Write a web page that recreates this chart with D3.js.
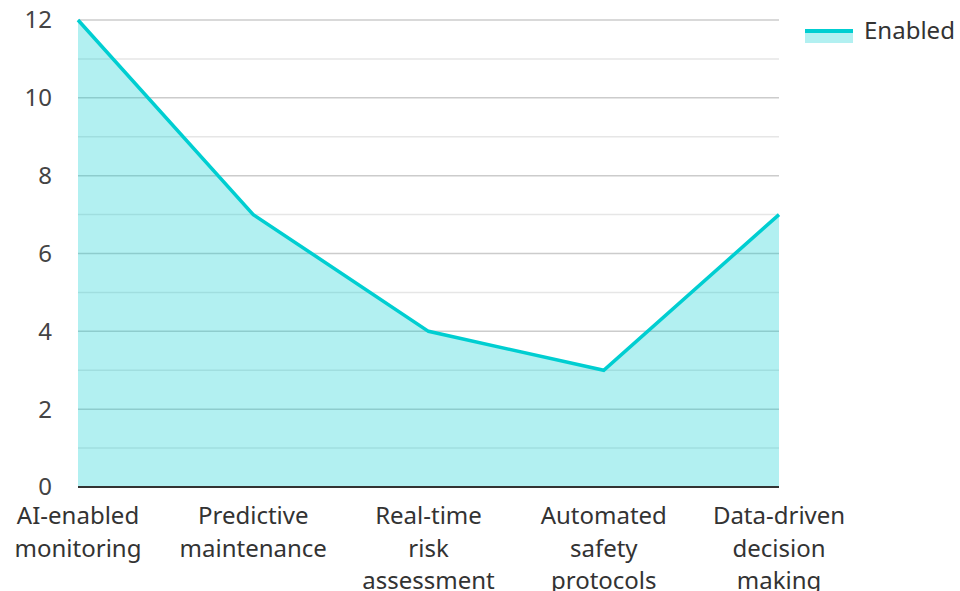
<!DOCTYPE html>
<html>
<head>
<meta charset="utf-8">
<script src="https://cdn.jsdelivr.net/npm/d3@7"></script>
<style>
  body { margin: 0; background: #fff; }
  text { font-family: "Noto Sans", sans-serif; }
</style>
</head>
<body>
<svg id="chart"></svg>
<script>
// Data
const categories = [
  ["AI-enabled", "monitoring"],
  ["Predictive", "maintenance"],
  ["Real-time", "risk", "assessment"],
  ["Automated", "safety", "protocols"],
  ["Data-driven", "decision", "making"]
];
const values = [12, 7, 4, 3, 7];
const seriesName = "Enabled";
const yTicks = [0, 2, 4, 6, 8, 10, 12];

const width = 960, height = 591;
const margin = { top: 20, right: 181, bottom: 104, left: 78 };
const innerW = width - margin.left - margin.right;
const innerH = height - margin.top - margin.bottom;
const lineColor = "#00CED1";

const svg = d3.select("#chart").attr("width", width).attr("height", height);
const g = svg.append("g").attr("transform", `translate(${margin.left},${margin.top})`);

const x = d3.scalePoint().domain(d3.range(categories.length)).range([0, innerW]);
const y = d3.scaleLinear().domain([0, 12]).range([innerH, 0]);

// Grid lines (minor every 1, major every 2)
g.append("g")
  .selectAll("line")
  .data(d3.range(1, 13))
  .join("line")
  .attr("x1", 0)
  .attr("x2", innerW)
  .attr("y1", (d) => y(d))
  .attr("y2", (d) => y(d))
  .attr("stroke", (d) => (d % 2 === 0 ? "#cccccc" : "#e6e6e6"))
  .attr("stroke-width", 1.5);

// Area + line
const area = d3.area().x((d, i) => x(i)).y0(y(0)).y1((d) => y(d));
const line = d3.line().x((d, i) => x(i)).y((d) => y(d));

g.append("path")
  .datum(values)
  .attr("d", area)
  .attr("fill", lineColor)
  .attr("fill-opacity", 0.3);

g.append("path")
  .datum(values)
  .attr("d", line)
  .attr("fill", "none")
  .attr("stroke", lineColor)
  .attr("stroke-width", 3.5);

// Bottom axis line
g.append("line")
  .attr("x1", 0)
  .attr("x2", innerW)
  .attr("y1", innerH)
  .attr("y2", innerH)
  .attr("stroke", "#333")
  .attr("stroke-width", 2);

// Y tick labels
g.append("g")
  .selectAll("text")
  .data(yTicks)
  .join("text")
  .attr("x", -26)
  .attr("y", (d) => y(d))
  .attr("dy", "0.35em")
  .attr("text-anchor", "end")
  .style("font-size", "24px")
  .attr("fill", "#444")
  .text((d) => d);

// X category labels (wrapped)
g.append("g")
  .selectAll("text")
  .data(categories)
  .join("text")
  .attr("text-anchor", "middle")
  .style("font-size", "24px")
  .attr("fill", "#333")
  .attr("transform", (d, i) => `translate(${x(i)},${innerH + 37})`)
  .each(function (d) {
    d3.select(this)
      .selectAll("tspan")
      .data(d)
      .join("tspan")
      .attr("x", 0)
      .attr("y", (t, j) => j * 32.5)
      .text((t) => t);
  });

// Legend
const legend = svg.append("g").attr("transform", "translate(805,31)");
legend.append("rect")
  .attr("x", 0).attr("y", 0).attr("width", 48).attr("height", 12)
  .attr("fill", lineColor).attr("fill-opacity", 0.3);
legend.append("line")
  .attr("x1", 0).attr("x2", 48).attr("y1", 0).attr("y2", 0)
  .attr("stroke", lineColor).attr("stroke-width", 4);
legend.append("text")
  .attr("x", 59).attr("y", 0)
  .attr("dy", "0.35em")
  .style("font-size", "24px")
  .attr("fill", "#333")
  .text(seriesName);
</script>
</body>
</html>
